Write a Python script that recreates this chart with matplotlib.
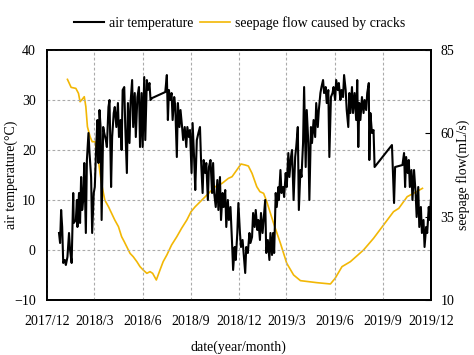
"""
plot.py
Air temperature vs. seepage flow caused by cracks, Dec 2017 - Dec 2019.
Writes out.png.
"""

import datetime as dt

import matplotlib
matplotlib.use("Agg")
import matplotlib.pyplot as plt


START = dt.date(2017, 12, 1)

# air temperature: days since 2017-12-01, value in degC
temp_day = [
    23, 25, 27, 29, 31, 34, 36, 39, 42, 44, 47, 50, 51, 55, 57, 58, 61, 63, 65, 67,
    69, 71, 74, 76, 79, 81, 84, 86, 89, 91, 94, 96, 98, 100, 102, 104, 107, 109, 112, 114,
    117, 119, 122, 124, 127, 129, 132, 135, 137, 140, 142, 144, 147, 149, 152, 154, 157, 159, 162, 164,
    167, 169, 172, 175, 177, 180, 182, 185, 187, 190, 192, 195, 197, 200, 225, 228, 230, 232, 234, 237,
    239, 242, 244, 247, 249, 252, 254, 257, 259, 262, 265, 267, 270, 272, 275, 277, 280, 282, 285, 288,
    291, 293, 296, 298, 301, 303, 306, 308, 311, 314, 316, 318, 321, 324, 326, 329, 331, 334, 336, 339,
    341, 344, 346, 349, 352, 354, 357, 359, 362, 364, 367, 369, 372, 374, 377, 379, 382, 385, 387, 390,
    392, 395, 397, 400, 402, 405, 407, 410, 412, 415, 417, 420, 423, 425, 428, 430, 432, 435, 437, 440,
    441, 444, 446, 449, 451, 454, 456, 459, 461, 464, 466, 469, 472, 474, 477, 479, 482, 484, 487, 489,
    492, 494, 497, 499, 502, 504, 507, 510, 512, 515, 517, 520, 522, 525, 527, 530, 532, 535, 537, 540,
    543, 545, 548, 550, 553, 555, 558, 560, 563, 565, 568, 570, 573, 575, 577, 580, 582, 585, 588, 590,
    592, 594, 596, 599, 602, 604, 607, 609, 612, 613, 615, 618, 621, 623, 656, 660, 662, 676, 679, 681,
    683, 686, 688, 690, 693, 695, 698, 701, 703, 706, 708, 711, 713, 716, 718, 721, 723, 726, 728, 730,
]
temp_value = [
    3.4, 1.4, 8.0, 4.6, -2.6, -2.0, -3.0, -1.4, 3.4, 0.0, -2.6, 11.4, 5.4, 6.0, 10.0, 4.6, 11.4, 5.4, 14.6, 8.0,
    10.0, 17.4, 3.4, 18.0, 23.4, 19.4, 14.6, 3.4, 11.4, 12.6, 21.4, 26.0, 17.4, 28.0, 24.6, 6.0, 24.6, 23.4, 22.0, 20.6,
    28.6, 30.0, 12.6, 22.6, 27.4, 28.6, 24.6, 29.4, 22.6, 26.0, 20.0, 32.0, 32.6, 24.6, 15.4, 29.4, 21.4, 29.4, 34.0, 24.6,
    31.4, 22.6, 30.6, 32.6, 20.6, 31.4, 20.6, 34.6, 22.0, 34.0, 32.0, 33.4, 30.0, 30.4, 31.6, 35.0, 26.0, 32.0, 30.0, 31.4,
    26.0, 30.6, 28.8, 18.6, 29.4, 24.6, 28.0, 24.6, 22.0, 24.6, 20.6, 24.6, 22.6, 24.0, 15.4, 25.4, 18.0, 12.0, 22.0, 23.4,
    24.6, 18.0, 11.4, 18.0, 15.4, 17.4, 10.0, 16.6, 18.0, 11.4, 17.4, 11.4, 8.6, 14.0, 8.0, 14.6, 6.0, 11.4, 8.6, 12.0,
    4.6, 10.0, 6.0, 8.6, 1.4, -4.0, 0.6, -2.0, 3.4, 9.4, 3.4, 0.6, 2.0, -0.6, -4.6, 0.6, -0.6, 3.4, 1.4, 2.6,
    7.4, 4.6, 8.0, 4.0, 6.0, 2.0, 7.4, 3.4, 6.0, 10.0, -0.6, 2.0, -2.0, 3.4, -1.0, 3.4, -0.6, 11.4, 8.6, 12.6,
    10.0, 16.0, 11.4, 12.6, 10.6, 15.4, 12.6, 19.4, 14.6, 18.6, 20.0, 10.0, 18.6, 20.6, 24.6, 8.0, 16.0, 14.6, 21.4, 32.6,
    16.6, 28.0, 21.4, 10.0, 24.6, 21.4, 26.0, 22.6, 29.4, 24.6, 28.0, 31.4, 32.6, 34.0, 31.4, 32.6, 29.4, 32.0, 18.6, 30.6,
    31.4, 32.6, 30.0, 34.0, 32.0, 33.4, 30.0, 32.0, 30.6, 35.0, 32.0, 28.0, 24.6, 31.4, 27.4, 32.6, 27.4, 31.4, 26.0, 34.0,
    20.6, 29.4, 26.0, 30.6, 27.4, 30.0, 28.0, 31.4, 33.4, 18.0, 27.4, 23.4, 24.0, 16.6, 21.0, 9.4, 16.6, 17.0, 19.4, 12.6,
    18.6, 15.4, 18.0, 12.6, 16.0, 10.0, 16.0, 11.4, 6.6, 12.6, 4.6, 8.6, 3.4, 6.0, 0.6, 4.6, 3.4, 8.6, 6.0, 10.0,
]

# seepage flow: days since 2017-12-01, value in mL/s
flow_day = [
    39, 46, 55, 60, 63, 67, 71, 74, 77, 82, 86, 91, 97, 101, 105, 110, 117, 123, 129, 136,
    142, 147, 158, 164, 171, 177, 183, 190, 196, 201, 208, 215, 221, 228, 237, 247, 256, 266, 274, 282,
    301, 320, 333, 345, 352, 361, 369, 377, 383, 390, 399, 405, 412, 418, 424, 431, 444, 456, 469, 482,
    513, 539, 548, 561, 577, 602, 621, 640, 659, 669, 685, 697, 714,
]
flow_value = [
    76.2, 73.8, 73.5, 72.0, 69.5, 70.2, 71.0, 68.0, 62.0, 59.0, 57.5, 57.5, 53.0, 48.0, 44.0, 40.0, 38.0, 36.0, 34.0, 32.0,
    29.0, 27.5, 24.0, 23.0, 21.5, 20.0, 19.0, 18.0, 18.5, 18.0, 16.0, 19.0, 21.5, 23.5, 26.5, 29.0, 31.5, 34.0, 36.5, 38.0,
    41.0, 44.0, 45.0, 46.5, 47.0, 49.0, 50.8, 50.5, 50.2, 48.0, 44.0, 42.5, 42.0, 39.5, 36.5, 33.0, 27.0, 21.0, 17.5, 15.8,
    15.2, 14.8, 16.5, 20.0, 21.5, 25.0, 28.5, 32.5, 36.5, 37.5, 41.0, 42.0, 43.5,
]

x_ticks = [dt.date(2017, 12, 1), dt.date(2018, 3, 1), dt.date(2018, 6, 1),
           dt.date(2018, 9, 1), dt.date(2018, 12, 1), dt.date(2019, 3, 1),
           dt.date(2019, 6, 1), dt.date(2019, 9, 1), dt.date(2019, 12, 1)]
x_tick_labels = ["2017/12", "2018/3", "2018/6", "2018/9", "2018/12",
                 "2019/3", "2019/6", "2019/9", "2019/12"]


def to_dates(days):
    return [START + dt.timedelta(days=d) for d in days]


def main() -> None:
    plt.rcParams["font.family"] = ["Liberation Serif", "DejaVu Serif"]
    plt.rcParams["font.size"] = 10

    fig = plt.figure(figsize=(4.74, 3.55), dpi=100)
    ax = fig.add_axes([0.099, 0.155, 0.810, 0.704])
    ax2 = ax.twinx()

    l1, = ax.plot(to_dates(temp_day), temp_value, color="black", linewidth=1.5,
                  label="air temperature", zorder=3)
    l2, = ax2.plot(to_dates(flow_day), flow_value, color="#F2B705", linewidth=1.2,
                   label="seepage flow caused by cracks")

    # temperature line on top of the flow line
    ax.set_zorder(ax2.get_zorder() + 1)
    ax.patch.set_visible(False)

    ax.set_xlim(x_ticks[0], x_ticks[-1])
    ax.set_xticks(x_ticks)
    ax.set_xticklabels(x_tick_labels)
    ax.set_ylim(-10, 40)
    ax.set_yticks([-10, 0, 10, 20, 30, 40])
    ax2.set_ylim(10, 85)
    ax2.set_yticks([10, 35, 60, 85])

    ax.grid(True, color="#aaaaaa", linestyle=(0, (2.5, 2)), linewidth=0.8)
    ax.tick_params(axis="y", direction="in", length=0, pad=8)
    ax.tick_params(axis="x", direction="in", length=0, pad=11)
    ax2.tick_params(direction="in", length=4, pad=7)

    for sp in ax.spines.values():
        sp.set_linewidth(1.3)
    for sp in ax2.spines.values():
        sp.set_linewidth(1.3)

    ax.set_ylabel("air temperature(°C)")
    ax.yaxis.set_label_coords(-0.075, 0.5)
    ax2.set_ylabel("seepage flow(mL/s)")
    ax2.yaxis.set_label_coords(1.066, 0.5)
    ax.set_xlabel("date(year/month)", labelpad=9)

    fig.legend(handles=[l1, l2], loc="center", bbox_to_anchor=(0.505, 0.935),
               ncol=2, frameon=False, handlelength=2.2, handletextpad=0.3,
               columnspacing=0.5)

    fig.savefig("out.png", dpi=100)
    plt.close(fig)


if __name__ == "__main__":
    main()
